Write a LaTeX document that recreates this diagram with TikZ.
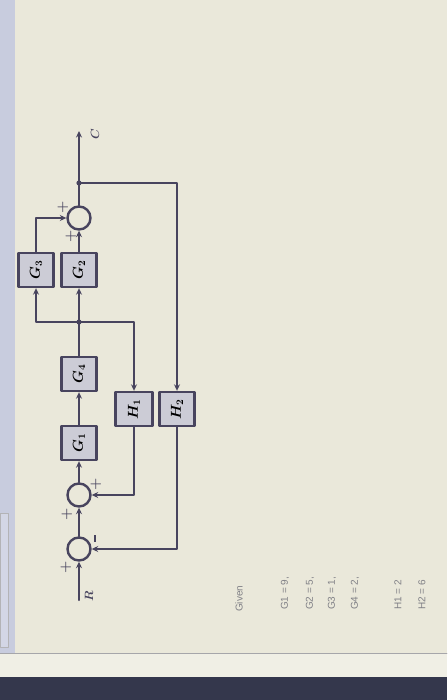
\documentclass[tikz,border=0pt]{standalone}
\usepackage{fontspec}
\usepackage{bm}
\usepackage{graphicx}
\newfontfamily\notefont{Liberation Sans}
\usetikzlibrary{arrows.meta,positioning}
\definecolor{paper}{RGB}{234,232,218}
\definecolor{edge}{RGB}{200,204,222}
\definecolor{ink}{RGB}{72,68,94}
\definecolor{boxfill}{RGB}{204,204,214}
\definecolor{note}{RGB}{128,128,134}
\definecolor{bezel}{RGB}{52,55,76}
\tikzset{
  blk/.style={draw=ink, fill=boxfill, line width=2.4pt, minimum width=35pt, minimum height=34pt, inner sep=0pt,
    font=\fontsize{14}{14}\selectfont},
  sum/.style={draw=ink, circle, line width=2.4pt, minimum size=23pt, inner sep=0pt},
  sig/.style={draw=ink, line width=2.4pt, -{Stealth[length=6.5pt,width=6pt]}},
  wire/.style={draw=ink, line width=2.4pt},
  sgn/.style={text=ink, rotate=90, font=\bfseries\fontsize{14}{14}\selectfont, inner sep=0pt},
  lbl/.style={text=ink, rotate=90, font=\fontsize{13}{13}\selectfont, inner sep=0pt},
  given/.style={text=note, rotate=90, anchor=west, font=\notefont\fontsize{10}{10}\selectfont, inner sep=0pt}
}
\begin{document}
\begin{tikzpicture}[x=1pt, y=-1pt, line join=round, line cap=round]
\useasboundingbox (0,0) rectangle (447,700);
% background of the photo
\fill[paper] (0,0) rectangle (447,700);
\fill[edge] (0,0) rectangle (15,653);
\draw[note!60, line width=0.8pt, fill=edge!80] (0,513) rectangle (8,647);
\fill[paper!70!white] (0,653) rectangle (447,677);
\draw[note!70, line width=0.6pt] (0,653) -- (447,653);
\fill[bezel] (0,677) rectangle (447,700);

% blocks and summing points
\node[sum] (sA) at (79,549) {};
\node[sum] (sB) at (79,495) {};
\node[blk] (G1) at (79,443) {\rotatebox{90}{$\bm{G_1}$}};
\node[blk] (G4) at (79,374) {\rotatebox{90}{$\bm{G_4}$}};
\node[blk] (G3) at (36,270) {\rotatebox{90}{$\bm{G_3}$}};
\node[blk] (G2) at (79,270) {\rotatebox{90}{$\bm{G_2}$}};
\node[sum] (sC) at (79,218) {};
\node[blk, minimum width=37pt] (H1) at (134,409) {\rotatebox{90}{$\bm{H_1}$}};
\node[blk] (H2) at (177,409) {\rotatebox{90}{$\bm{H_2}$}};
\coordinate (R) at (79,600);
\coordinate (b1) at (79,322);
\coordinate (b2) at (79,183);
\coordinate (C) at (79,131);

% forward path
\draw[sig] (R) -- (sA.south);
\draw[sig] (sA.north) -- (sB.south);
\draw[sig] (sB.north) -- (G1.south);
\draw[sig] (G1.north) -- (G4.south);
\draw[wire] (G4.north) -- (b1);
\draw[sig] (b1) -- (G2.south);
\draw[sig] (b1) -| (G3.south);
\draw[sig] (G2.north) -- (sC.south);
\draw[sig] (G3.north) |- (sC.west);
\draw[wire] (sC.north) -- (b2);
\draw[sig] (b2) -- (C);

% feedback paths
\draw[sig] (b1) -| (H1.north);
\draw[sig] (H1.south) |- (sB.east);
\draw[sig] (b2) -| (H2.north);
\draw[sig] (H2.south) |- (sA.east);
\fill[ink] (b1) circle (2.6pt);
\fill[ink] (b2) circle (2.6pt);

% signs and signal names
\node[sgn] at (66,567) {+};
\node[sgn] at (95,538) {\rule{7pt}{2pt}};
\node[sgn] at (67,514) {+};
\node[sgn] at (96,484) {+};
\node[sgn] at (71,236) {+};
\node[sgn] at (63,207) {+};
\node[lbl] at (89,596) {$\bm{R}$};
\node[lbl] at (95,134) {$\bm{C}$};

% given values
\node[given] at (239,612) {Given};
\node[given] at (285,610) {G1 = 9,};
\node[given] at (310,610) {G2 = 5,};
\node[given] at (332,610) {G3 = 1,};
\node[given] at (355,610) {G4 = 2,};
\node[given] at (398,610) {H1 = 2};
\node[given] at (422,610) {H2 = 6};
\end{tikzpicture}
\end{document}
